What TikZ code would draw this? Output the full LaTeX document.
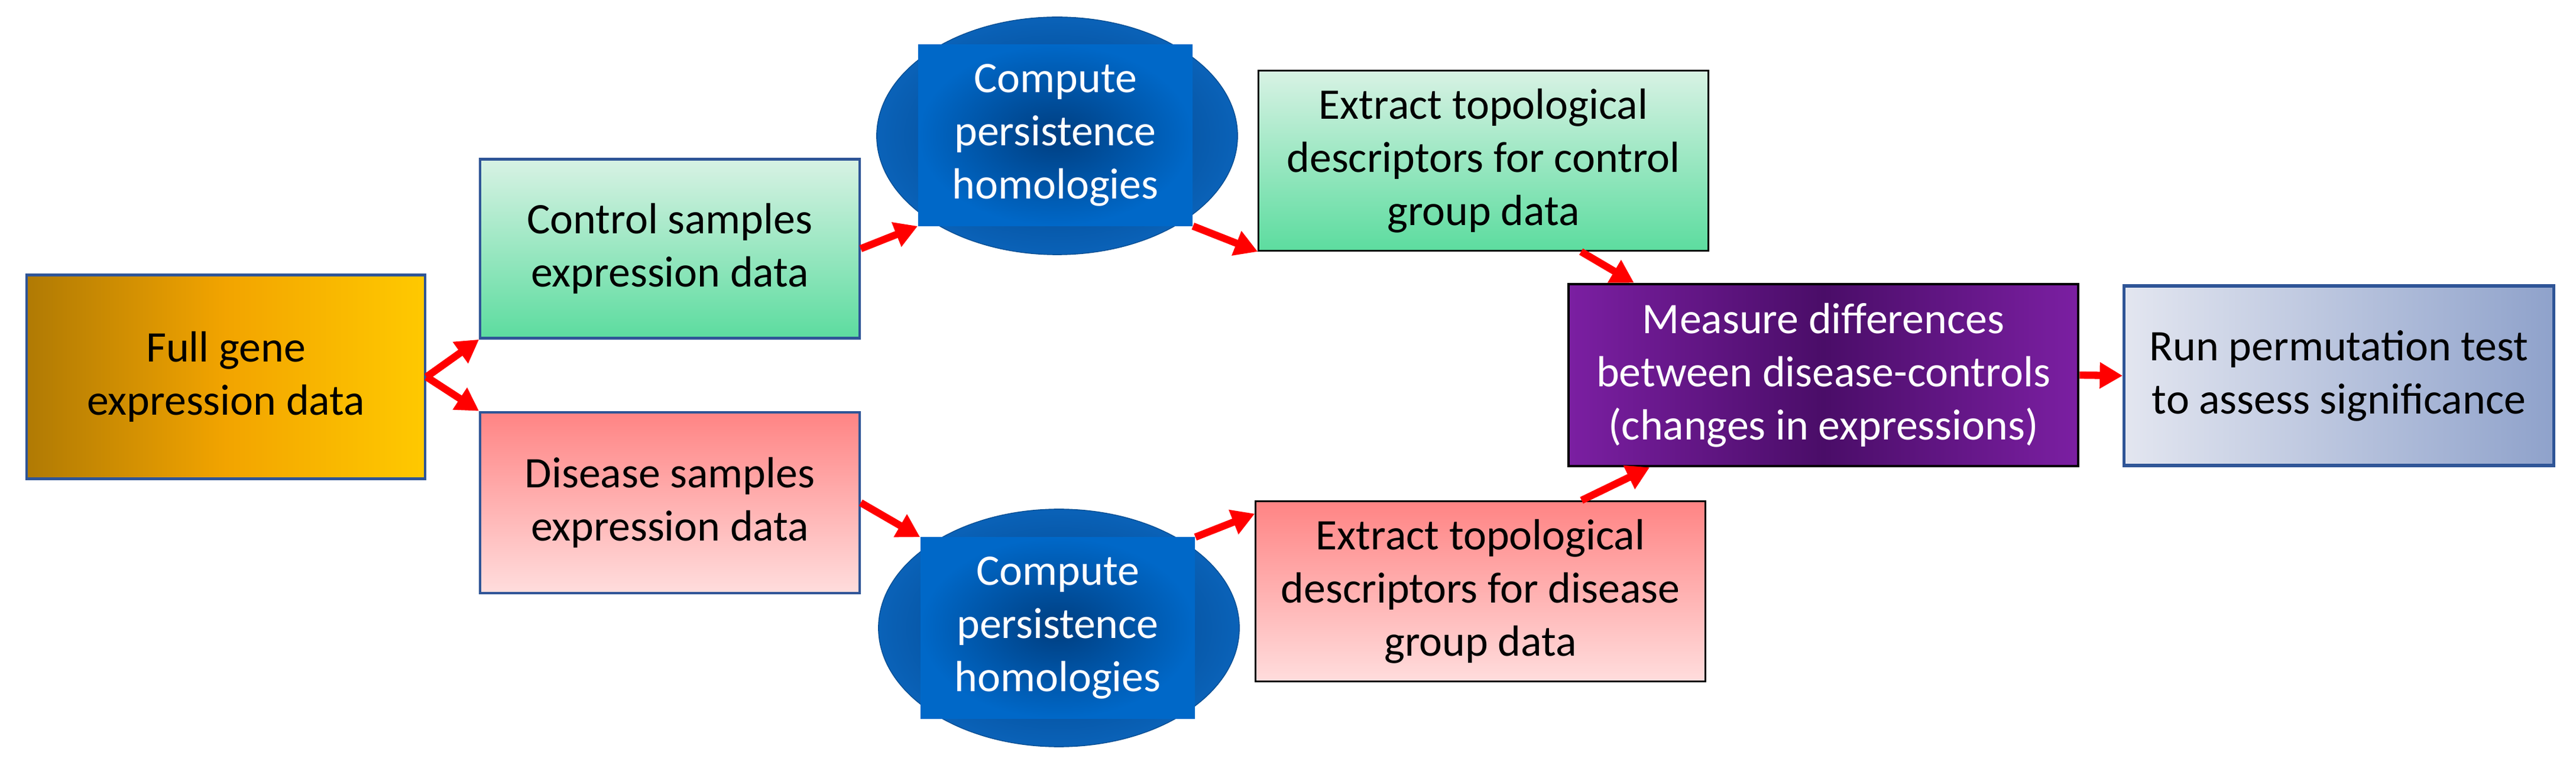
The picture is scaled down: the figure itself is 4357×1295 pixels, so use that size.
\documentclass[tikz,border=0pt]{standalone}
\usepackage{fontspec}
\setmainfont{Carlito}
\usetikzlibrary{arrows.meta,shapes.geometric}
\definecolor{frameblue}{HTML}{2F5597}
\definecolor{fullL}{HTML}{B07A04}
\definecolor{fullM}{HTML}{F2A400}
\definecolor{fullR}{HTML}{FFC900}
\definecolor{ctrlT}{HTML}{D8F2E4}
\definecolor{ctrlB}{HTML}{5CDC9F}
\definecolor{disT}{HTML}{FF8484}
\definecolor{disB}{HTML}{FFDDDD}
\definecolor{ovalO}{HTML}{0A62B8}
\definecolor{ovalI}{HTML}{003E80}
\definecolor{coreO}{HTML}{0068C8}
\definecolor{measO}{HTML}{7B1FA2}
\definecolor{measI}{HTML}{4A0D68}
\definecolor{runL}{HTML}{E3E6F0}
\definecolor{runR}{HTML}{8FA2CB}
\begin{document}
\begin{tikzpicture}[x=0.01cm,y=-0.01cm,->,>={Triangle[length=11pt,width=12pt]}]
        \tikzstyle{box}=[rectangle,draw=frameblue,line width=1.2pt,align=center,inner sep=0pt,font=\fontsize{21}{25.6}\selectfont]
        \tikzstyle{extract}=[box,draw=black,line width=0.8pt,minimum width=7.6cm,minimum height=3.05cm,top color=#1,bottom color=white]
        \tikzstyle{oval}=[ellipse,draw=ovalO!80!black,line width=0.4pt,inner color=ovalI,outer color=ovalO,minimum width=6.1cm,minimum height=4.02cm]
        \tikzstyle{core}=[rectangle,inner color=ovalI,outer color=coreO,minimum width=4.64cm,minimum height=3.06cm,align=center,text=white,font=\fontsize{21}{25.6}\selectfont]
        \tikzstyle{edge}=[red,line width=3.5pt]
       \useasboundingbox (0,0) rectangle (4357,1295);
       \begin{scope}
         \node [box,minimum width=6.74cm,minimum height=3.45cm,left color=fullL,right color=fullR,middle color=fullM] (full) at (382,638) {Full gene\\expression data};
         \node [box,minimum width=6.41cm,minimum height=3.03cm,top color=ctrlT,bottom color=ctrlB] (ctrl) at (1133,421) {Control samples\\expression data};
         \node [box,minimum width=6.41cm,minimum height=3.06cm,top color=disT,bottom color=disB] (dis) at (1133,851) {Disease samples\\expression data};

         \node [oval] (ovalc) at (1788,230) {};
         \node [core] (homc) at (1785,229) {Compute\\persistence\\homologies};
         \node [oval] (ovald) at (1791,1063) {};
         \node [core] (homd) at (1789,1063) {Compute\\persistence\\homologies};

         \node [extract=ctrlT,bottom color=ctrlB] (extc) at (2509,272) {Extract topological\\descriptors for control\\group data};
         \node [extract=disT,bottom color=disB] (extd) at (2504,1001) {Extract topological\\descriptors for disease\\group data};

         \node [box,draw=black,line width=1.2pt,text=white,minimum width=8.62cm,minimum height=3.08cm,left color=measO,right color=measO,middle color=measI] (meas) at (3084,635) {Measure differences\\between disease-controls\\(changes in expressions)};
         \node [box,line width=1.5pt,minimum width=7.26cm,minimum height=3.04cm,left color=runL,right color=runR] (run) at (3956,636) {Run permutation test\\to assess significance};

         \path[edge] (full.east) edge (ctrl.south west);
         \path[edge] (full.east) edge (dis.north west);

         \path[edge] (ctrl.east) edge (homc.south west);
         \path[edge] (dis.east) edge (homd.north west);

         \path[edge] (homc.south east) edge (extc.south west);
         \path[edge] (homd.north east) edge (extd.161);

         \path[edge] (extc.-43) edge (meas.154);
         \path[edge] (extd.42) edge (meas.208);

         \path[edge] (meas.east) edge (run.west);
        \end{scope}
      \end{tikzpicture}
\end{document}
